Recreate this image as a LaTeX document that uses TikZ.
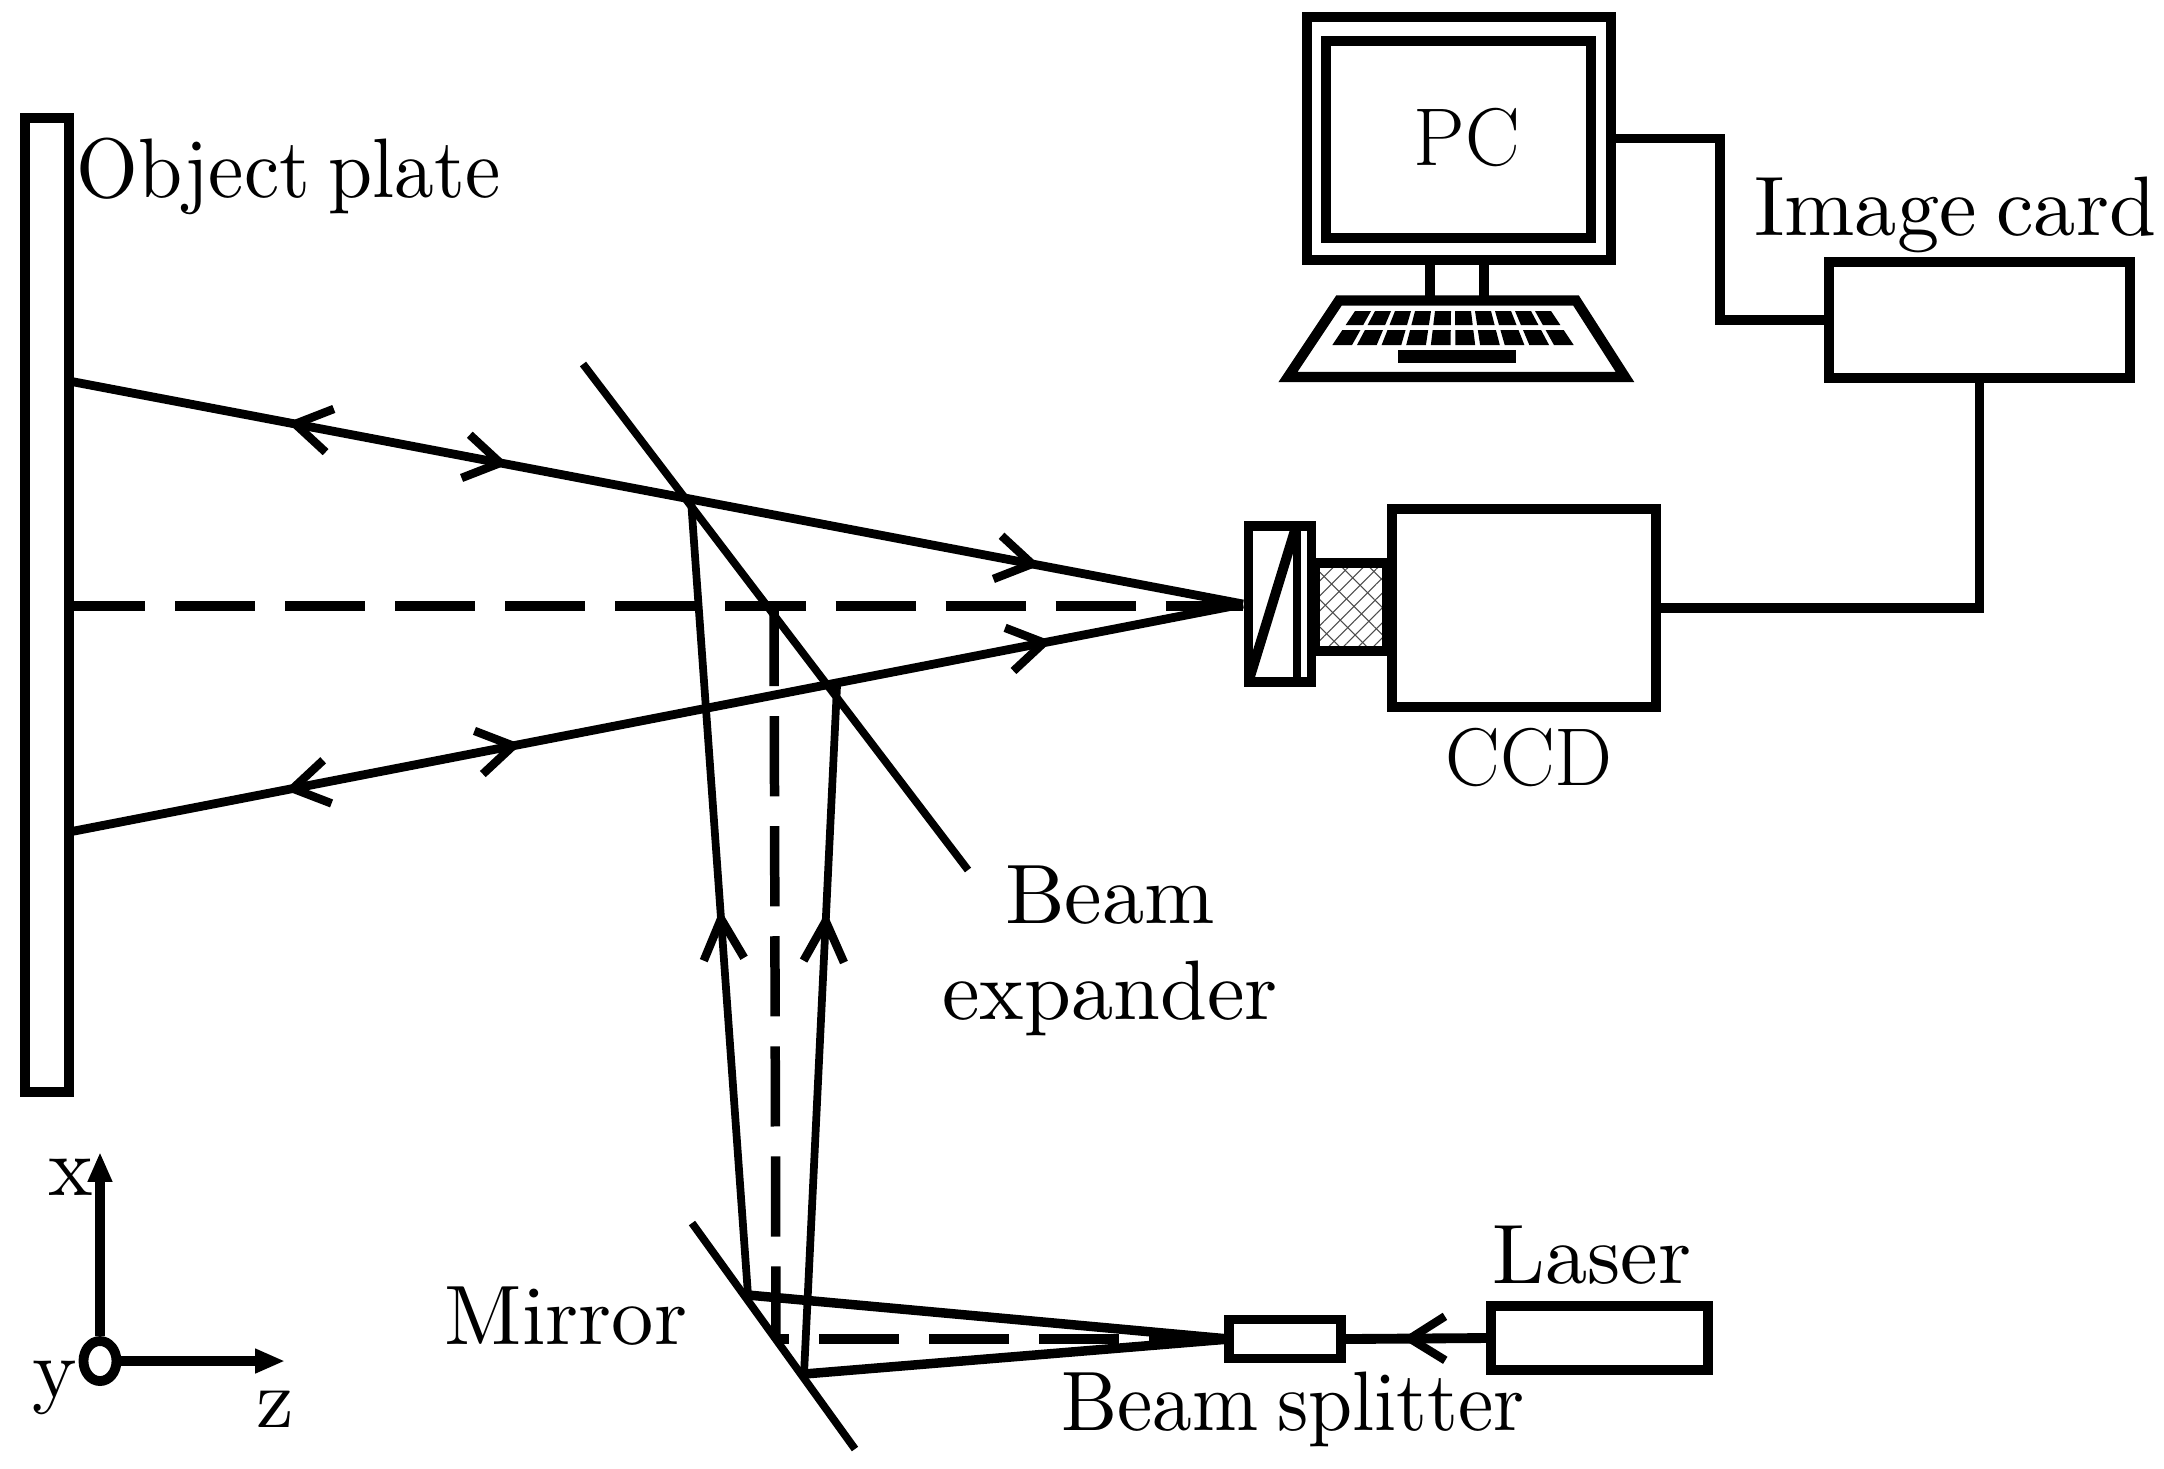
\documentclass[tikz,border=0pt]{standalone}
\usepackage{fontspec}
\setmainfont{lmroman10-regular}[Extension=.otf, WordSpace=0.7]
\newfontface\capsfont{lmroman17-regular}[Extension=.otf]
\newfontface\narrowfont{lmroman10-regular}[Extension=.otf, WordSpace=0.7, FakeStretch=0.94]
\usetikzlibrary{arrows.meta,decorations.markings,patterns.meta,shapes.geometric}
\begin{document}
\begin{tikzpicture}[
        x=0.01cm, y=-0.01cm,
        box/.style={rectangle, draw, fill=white, line width=2.8pt, inner sep=0pt},
        wire/.style={line width=2.6pt},
        beam/.style={line width=2.5pt},
        thinbeam/.style={line width=2.2pt},
        centre/.style={line width=2.7pt, dash pattern=on 22.8pt off 8.5pt},
        barb/.tip={Straight Barb[length=10pt, width=12.5pt, line width=2.4pt]},
        longbarb/.tip={Straight Barb[length=11.5pt, width=11.5pt, line width=2.4pt]},
        fwd/.style={postaction={decorate, decoration={markings, mark=at position #1 with {\arrow{barb}}}}},
        rev/.style={postaction={decorate, decoration={markings, mark=at position #1 with {\arrowreversed{barb}}}}},
        up/.style={postaction={decorate, decoration={markings, mark=at position #1 with {\arrow{longbarb}}}}},
        lbl/.style={font=\fontsize{24}{28}\selectfont, inner sep=0pt, anchor=base},
        narrowlbl/.style={font=\fontsize{24}{28}\narrowfont, inner sep=0pt, anchor=base},
        capslbl/.style={font=\fontsize{23.3}{27}\capsfont, inner sep=0pt, anchor=base},
        axis/.style={line width=2.8pt, -{Triangle[length=8.5pt, width=6.5pt]}}
    ]
    \fill[white] (0,0) rectangle (2164,1468);
    \useasboundingbox (0,0) rectangle (2164,1468);

    % Points on the beams
    \coordinate (plateup) at (69,381);
    \coordinate (platelow) at (69,832);
    \coordinate (focus) at (1243,604);
    \coordinate (focusmid) at (1243,606);
    \coordinate (expup) at (691,500);
    \coordinate (explow) at (837,686);
    \coordinate (expmid) at (774,606);
    \coordinate (platemid) at (65,606);
    \coordinate (mirup) at (748,1295);
    \coordinate (mirlow) at (804,1374);
    \coordinate (mirmid) at (776,1339);
    \coordinate (split) at (1229,1339);

    % Beams
    \draw[beam, rev=.186, fwd=.374, fwd=.827] (plateup) -- (focus);
    \draw[beam, rev=.184, fwd=.385, fwd=.837] (platelow) -- (focus);
    \draw[thinbeam, up=.485] (mirup) -- (expup);
    \draw[thinbeam, up=.672] (mirlow) -- (explow);
    \draw[centre] (platemid) -- (focusmid);
    \draw[centre] (expmid) -- (776,1339);
    \draw[centre] (split) -- (mirmid);
    \draw[line width=2.7pt] (mirup) -- (split);
    \draw[line width=2.7pt] (mirlow) -- (split);

    % Expander and mirror
    \coordinate (exptop) at (583,364);
    \coordinate (expbot) at (968,870);
    \coordinate (mirtop) at (692,1223);
    \coordinate (mirbot) at (855,1449);
    \draw[thinbeam] (exptop) -- (expbot);
    \draw[thinbeam] (mirtop) -- (mirbot);

    % Main boxes
    \node[box, minimum width=2.64cm, minimum height=1.98cm] (ccd) at (1524,608) {};
    \node[box, pattern color=black!70, pattern={Lines[angle=45, distance=3pt, line width=.3pt]},
        preaction={pattern color=black!70, pattern={Lines[angle=-45, distance=5.5pt, line width=.3pt]}},
        minimum width=.71cm, minimum height=.88cm] (filter) at (1351,607) {};
    \node[box, minimum width=.63cm, minimum height=1.56cm] (pol) at (1280,604) {};
    \draw[line width=2.5pt] (1297,526) -- (1297,682);
    \draw[line width=2.8pt] (1295,530) -- (1249,680);
    \node[box, minimum width=.44cm, minimum height=9.74cm] (plate) at (47,605) {};
    \node[box, minimum width=3.01cm, minimum height=1.165cm] (card) at (1979.5,320) {};
    \node[box, minimum width=1.12cm, minimum height=.39cm] (splitter) at (1285,1339) {};
    \node[box, minimum width=2.17cm, minimum height=.64cm] (laser) at (1599.5,1338) {};

    % PC
    \node[box, minimum width=3.04cm, minimum height=2.43cm] (monitor) at (1459,138.5) {};
    \node[box, minimum width=2.65cm, minimum height=1.97cm] (screen) at (1458.5,139.5) {};
    \coordinate (standl) at (1430,265);
    \coordinate (standr) at (1484,265);
    \draw[line width=2.6pt] (standl) -- (1430,300);
    \draw[line width=2.6pt] (standr) -- (1484,300);
    \draw[line width=2.9pt, fill=white] (1339,300.5) -- (1576,300.5) -- (1625,377) -- (1288,377) -- cycle;
    \foreach \ta/\tb in {311/325, 330/345} {
        \pgfmathsetmacro{\wa}{100+(\ta-311)*.68}
        \pgfmathsetmacro{\wb}{100+(\tb-311)*.68}
        \foreach \i in {0,...,9} {
            \pgfmathsetmacro{\fa}{-1+(\i+.1)/5}
            \pgfmathsetmacro{\fb}{-1+(\i+.9)/5}
            \fill ({1453+\fa*\wa},\ta) -- ({1453+\fb*\wa},\ta) -- ({1453+\fb*\wb},\tb) -- ({1453+\fa*\wb},\tb) -- cycle;
        }
    }
    \fill (1398,350) rectangle (1516,363);

    % Wires
    \coordinate (bend) at (1720,138.5);
    \draw[wire] (monitor.east) -- (bend) |- (card.west);
    \draw[wire] (ccd.east) -| (card.south);
    \draw[line width=2.8pt, fwd=.6] (laser.west) -- (splitter.east);

    % Axes
    \node[ellipse, draw, line width=2.8pt, minimum width=.33cm, minimum height=.4cm, inner sep=0pt] (origin) at (100,1361) {};
    \coordinate (xtip) at (100,1152);
    \coordinate (ztip) at (285,1361);
    \draw[axis] (origin) -- (xtip);
    \draw[axis] (origin) -- (ztip);

    % Labels
    \node[narrowlbl, anchor=base west] (platelabel) at (76,197) {Object plate};
    \node[capslbl] (pclabel) at (1467,165) {PC};
    \node[lbl] (cardlabel) at (1955,235) {Image card};
    \node[capslbl] (ccdlabel) at (1529,785) {CCD};
    \node[lbl] (explabel) at (1110,923) {Beam};
    \node[lbl] (explabelb) at (1110,1019) {expander};
    \node[lbl] (mirlabel) at (566,1344) {Mirror};
    \node[lbl] (laserlabel) at (1592,1283) {Laser};
    \node[narrowlbl] (splitlabel) at (1293,1430) {Beam splitter};
    \node[lbl] (xlabel) at (71,1195) {x};
    \node[lbl] (ylabel) at (55,1397) {y};
    \node[lbl] (zlabel) at (275,1427) {z};
\end{tikzpicture}
\end{document}
